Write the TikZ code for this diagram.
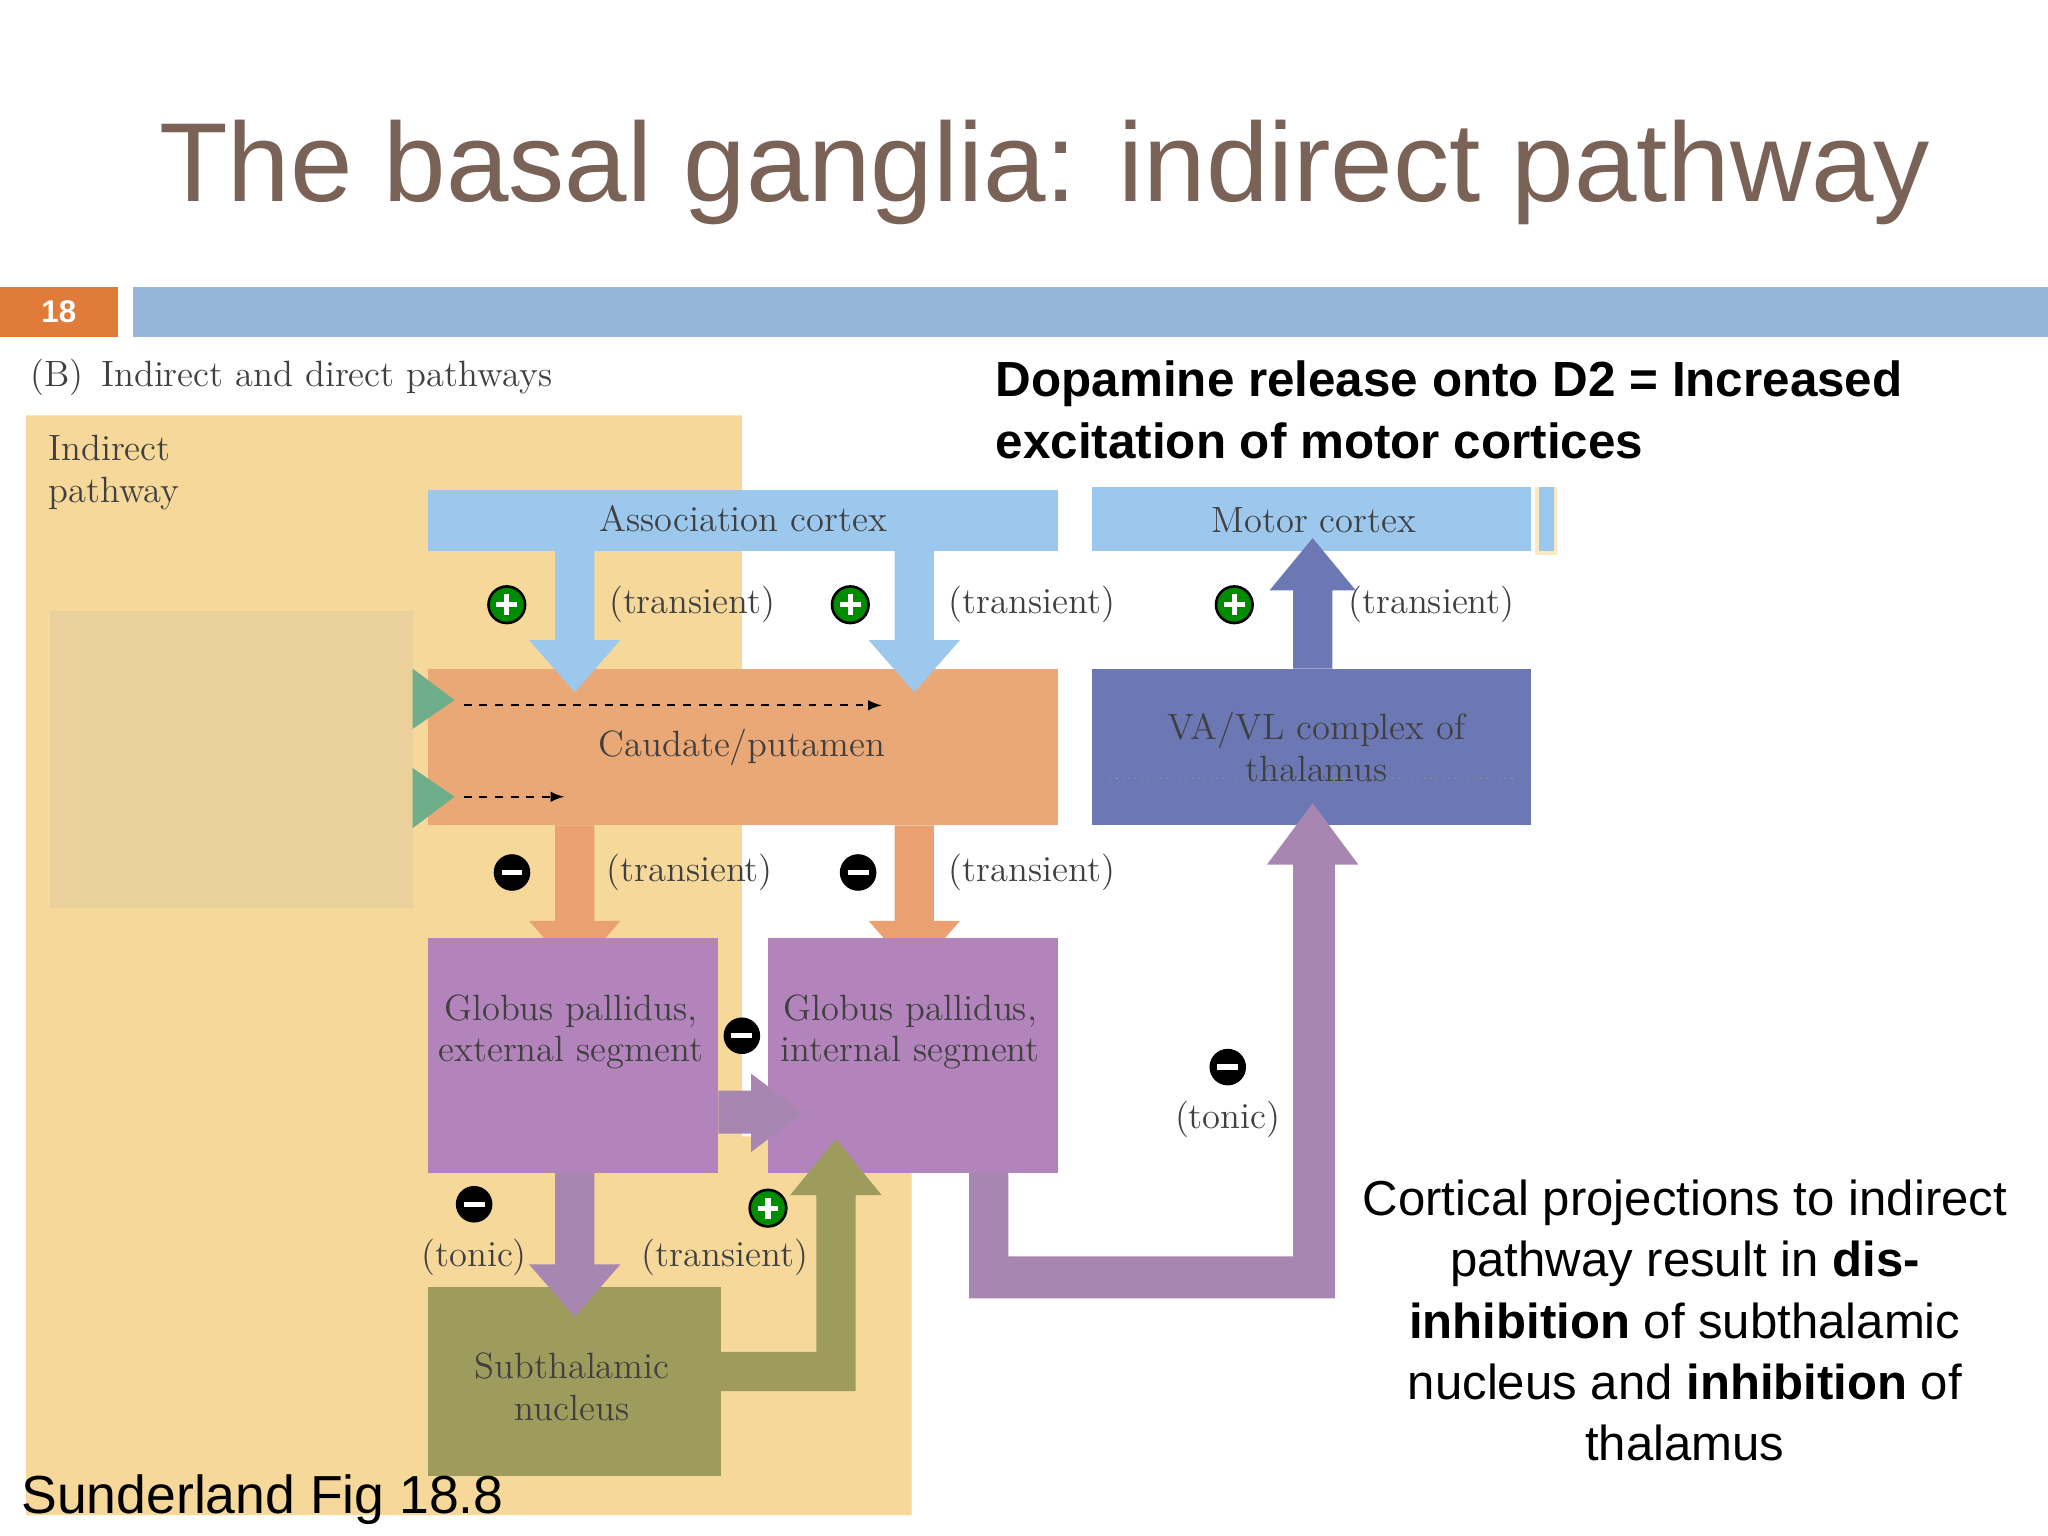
\documentclass[tikz,border=0pt]{standalone}
\usepackage{fontspec}
\newfontfamily\sans{Liberation Sans}
\begin{document}
\begin{tikzpicture}[x=0.5pt,y=-0.5pt,
  lbl/.style={font=\fontsize{14}{16}\selectfont,text=black!75},
  plus/.style={circle,draw=black,line width=1pt,fill=green!55!black,minimum size=14pt,inner sep=0pt,
     path picture={\draw[white,line width=2pt] (path picture bounding box.center)+(-4pt,0)--+(4pt,0) (path picture bounding box.center)+(0,-4pt)--+(0,4pt);}},
  minus/.style={circle,fill=black,minimum size=14pt,inner sep=0pt,
     path picture={\draw[white,line width=2pt] (path picture bounding box.center)+(-4pt,0)--+(4pt,0);}}]
\definecolor{tan}{HTML}{F5D89A}
\definecolor{tanD}{HTML}{EAD09A}
\definecolor{blu}{HTML}{9DC8EE}
\definecolor{bar}{HTML}{95B6D8}
\definecolor{org}{HTML}{E9A876}
\definecolor{orgA}{HTML}{EAA070}
\definecolor{thal}{HTML}{6C78B4}
\definecolor{gp}{HTML}{B384BC}
\definecolor{gpA}{HTML}{A886B2}
\definecolor{stn}{HTML}{9E9C5C}
\definecolor{brn}{HTML}{7B6256}
\definecolor{num}{HTML}{E07B39}
\definecolor{grt}{HTML}{6FAE8A}
\newcommand\dnarr[5]{\fill[#1] (#2-15,#3)--(#2+15,#3)--(#2+15,#4-40)--(#2+#5,#4-40)--(#2,#4)--(#2-#5,#4-40)--(#2-15,#4-40)--cycle;}
\useasboundingbox (0,0) rectangle (1568,1176);
\fill[white] (0,0) rectangle (1568,1176);
\node[font=\sans\fontsize{43}{48}\selectfont,text=brn] (title) at (800,132) {The basal ganglia: indirect pathway};
\fill[num] (0,220) rectangle (90,258);
\node[font=\sans\bfseries\fontsize{12}{14}\selectfont,text=white] (n18) at (45,239) {18};
\fill[bar] (102,220) rectangle (1568,258);
\node[lbl,anchor=west] (B) at (16,289) {(B)\, Indirect and direct pathways};
% tan background
\fill[tan] (20,318) -- (568,318) -- (568,870) -- (698,870) -- (698,1160) -- (20,1160) -- cycle;
\fill[tan!60] (1175,373) rectangle (1192,425);
\fill[tanD] (38,468) rectangle (316,695);
\node[lbl,anchor=north west,align=left] (ind) at (30,326) {Indirect\\pathway};
% cortex
\fill[blu] (328,375) rectangle (810,422);
\node[lbl] (assoc) at (569,397) {Association cortex};
\fill[blu] (836,373) rectangle (1172,422);
\fill[blu] (1178,373) rectangle (1190,422);
\node[lbl] (motor) at (1006,398) {Motor cortex};
% striatum
\fill[org] (328,512) rectangle (810,632);
\node[lbl] (cp) at (568,572) {Caudate/putamen};
\fill[grt] (316,512)--(348,536)--(316,558)--cycle;
\fill[grt] (316,588)--(348,610)--(316,634)--cycle;
\draw[dashed,-latex,thick] (355,540)--(675,540);
\draw[dashed,-latex,thick] (355,610)--(432,610);
\dnarr{blu}{440}{422}{530}{35}
\dnarr{blu}{700}{422}{530}{35}
% thalamus
\fill[thal] (836,512) rectangle (1172,632);
\node[lbl,align=center] (va) at (1008,572) {VA/VL complex of\\thalamus};
\draw[dotted,black!40] (850,596)--(1160,596);
\fill[thal] (990,512)--(1020,512)--(1020,452)--(1038,452)--(1005,412)--(972,452)--(990,452)--cycle;
% GP
\dnarr{orgA}{440}{632}{745}{35}
\dnarr{orgA}{700}{632}{745}{35}
\fill[gp] (328,718) rectangle (550,898);
\fill[gp] (588,718) rectangle (810,898);
\node[lbl,align=center] (gpe) at (437,790) {Globus pallidus,\\external segment};
\node[lbl,align=center] (gpi) at (697,790) {Globus pallidus,\\internal segment};
\fill[gpA] (550,835)--(575,835)--(575,822)--(615,852)--(575,882)--(575,868)--(550,868)--cycle;
% STN
\fill[stn] (328,985) rectangle (552,1130);
\node[lbl,align=center] (stnn) at (438,1062) {Subthalamic\\nucleus};
\dnarr{gpA}{440}{898}{1008}{35}
\fill[stn] (552,1035)--(625,1035)--(625,915)--(605,915)--(640,872)--(675,915)--(655,915)--(655,1065)--(552,1065)--cycle;
% GPi -> thalamus
\fill[gpA] (742,898)--(772,898)--(772,962)--(990,962)--(990,662)--(970,662)--(1005,615)--(1040,662)--(1022,662)--(1022,994)--(742,994)--cycle;
% signs
\node[plus] (p1) at (388,463) {};
\node[plus] (p2) at (651,463) {};
\node[plus] (p3) at (945,463) {};
\node[plus] (p4) at (588,925) {};
\node[minus] (m1) at (392,668) {};
\node[minus] (m2) at (657,668) {};
\node[minus] (m3) at (568,793) {};
\node[minus] (m4) at (363,922) {};
\node[minus] (m5) at (940,817) {};
\node[lbl] (t1) at (530,463) {(transient)};
\node[lbl] (t2) at (790,463) {(transient)};
\node[lbl] (t3) at (1096,463) {(transient)};
\node[lbl] (t4) at (528,668) {(transient)};
\node[lbl] (t5) at (790,668) {(transient)};
\node[lbl] (t6) at (555,963) {(transient)};
\node[lbl] (to1) at (363,963) {(tonic)};
\node[lbl] (to2) at (940,857) {(tonic)};
% texts
\node[font=\sans\bfseries\fontsize{18.9}{23.5}\selectfont,anchor=north west,align=left,inner sep=0] (dop) at (762,276) {Dopamine release onto D2 = Increased\\excitation of motor cortices};
\node[font=\sans\fontsize{18.8}{23.5}\selectfont,align=center] (cort) at (1290,1011) {Cortical projections to indirect\\pathway result in \textbf{dis-}\\\textbf{inhibition} of subthalamic\\nucleus and \textbf{inhibition} of\\thalamus};
\node[font=\sans\fontsize{20.5}{24}\selectfont,anchor=west,inner sep=0] (sund) at (16,1148) {Sunderland Fig 18.8};
\end{tikzpicture}
\end{document}
